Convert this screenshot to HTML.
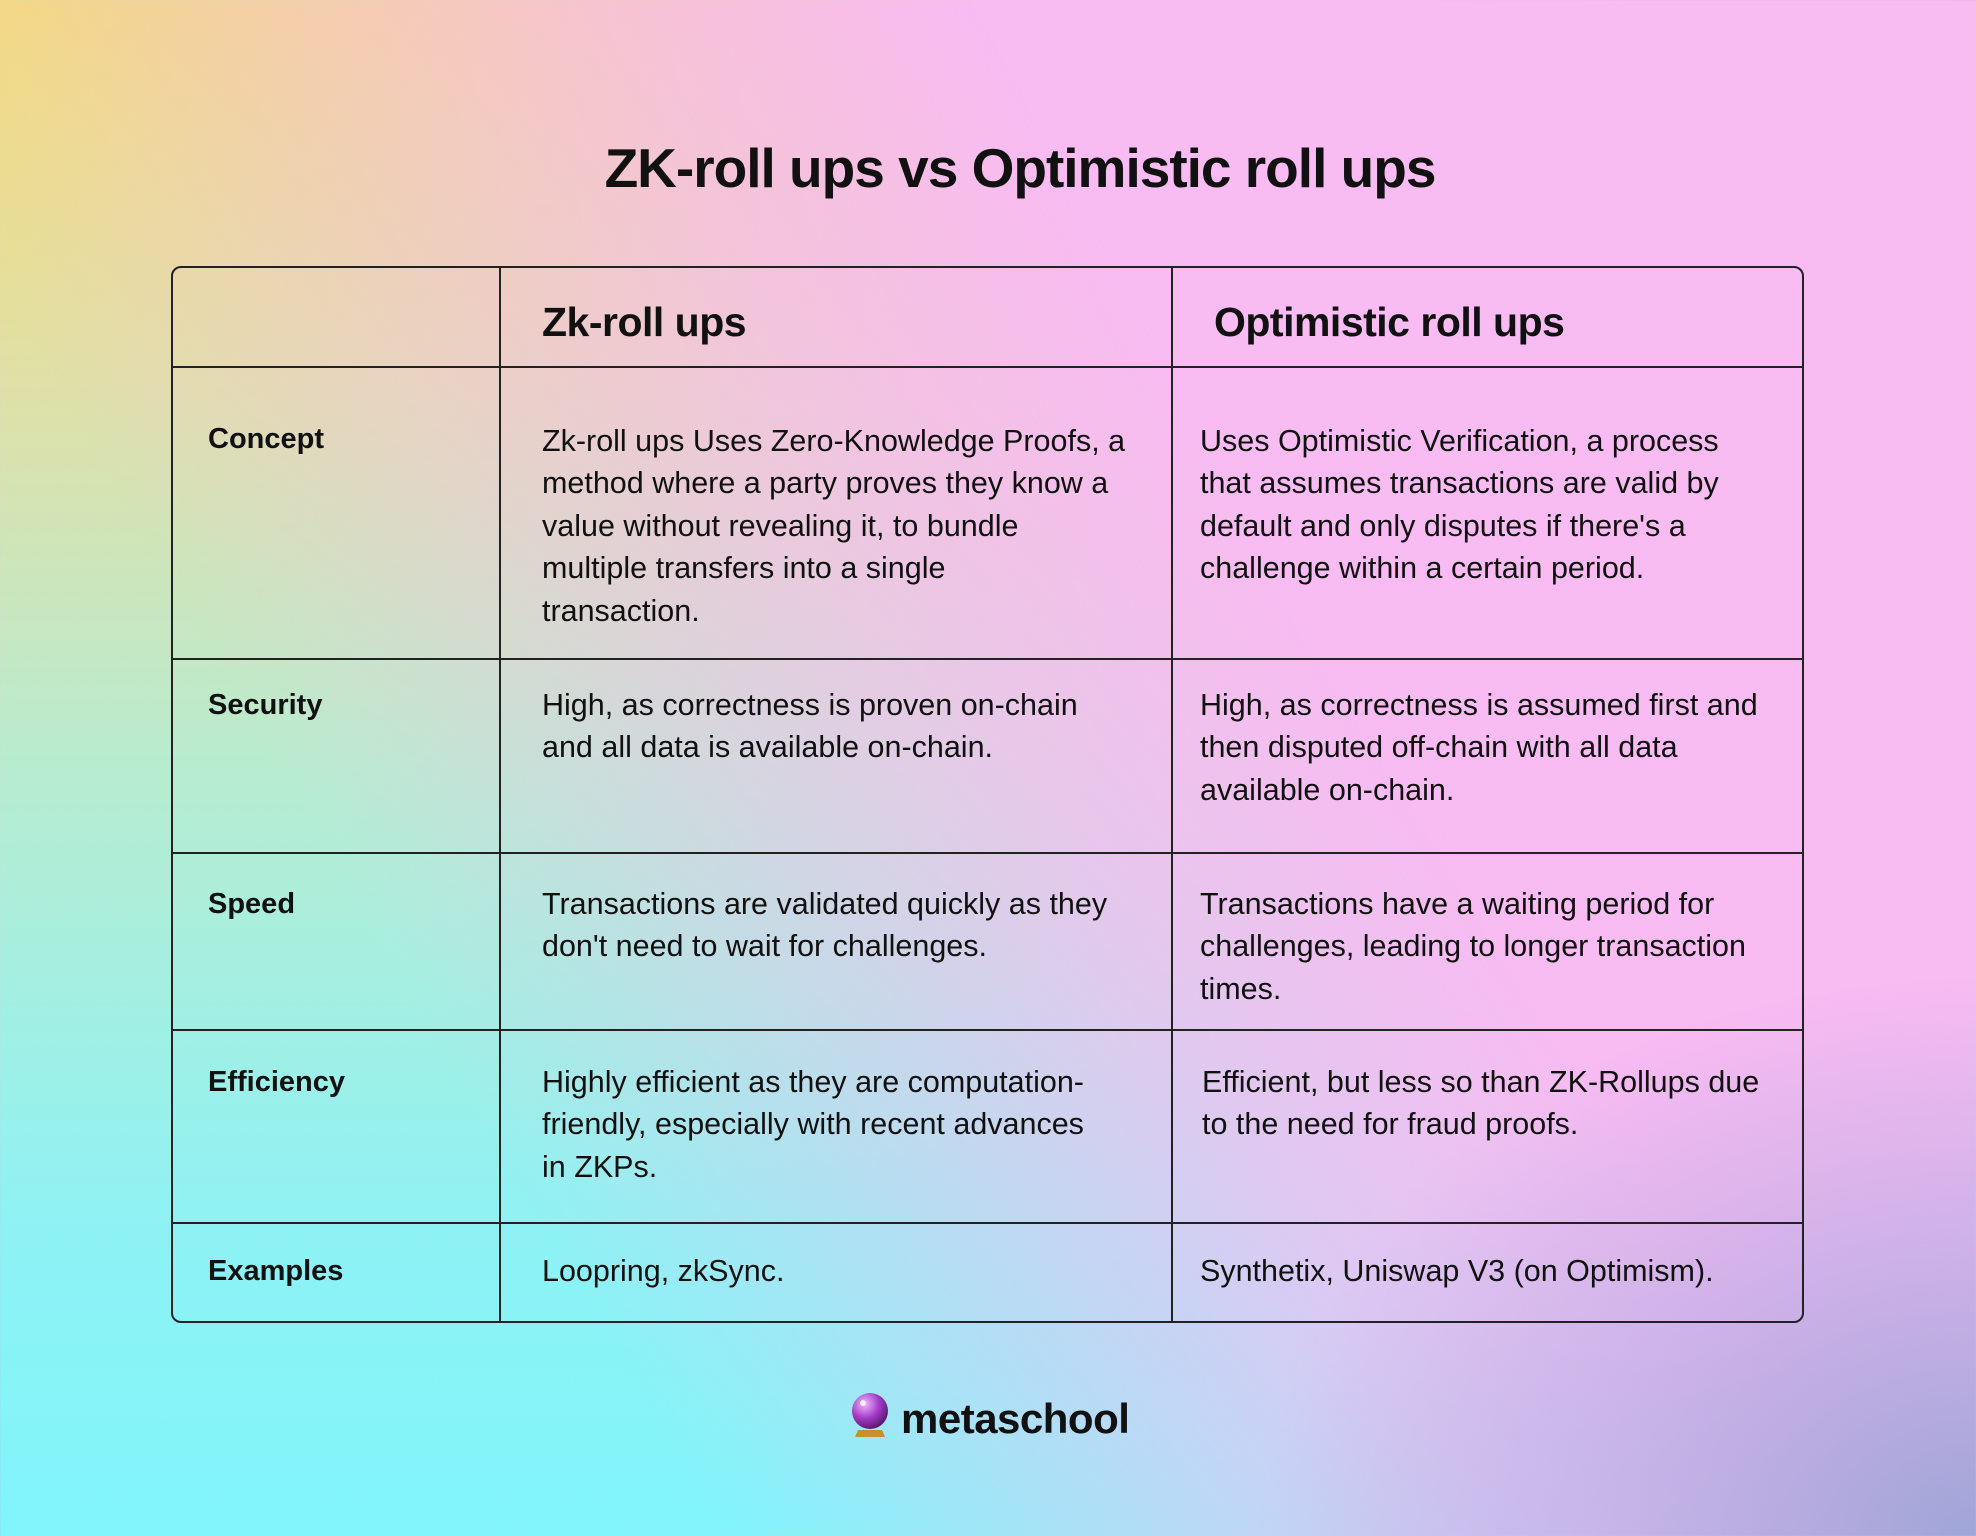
<!DOCTYPE html>
<html><head><meta charset="utf-8"><style>
html,body{margin:0;padding:0}
body{width:1976px;height:1536px;position:relative;overflow:hidden;font-family:"Liberation Sans",sans-serif;color:#111;
background:
radial-gradient(ellipse 900px 700px at 100% 100%, rgba(160,165,215,1) 0%, rgba(175,170,225,0.6) 40%, rgba(175,170,225,0) 80%),
linear-gradient(60deg, rgba(248,187,242,0) 25%, rgba(248,187,242,0.75) 52%, rgba(248,187,242,1) 65%),
linear-gradient(to bottom, #f2de70 0%, #e0e0a8 25%, #b8ecd0 50%, #8ef2f4 80%, #80f5fb 100%);}
.t{position:absolute;white-space:nowrap}
.title{left:0;width:2040px;text-align:center;top:136px;font-size:55px;font-weight:bold;letter-spacing:-1px}
.tbl{position:absolute;left:171px;top:266px;width:1633px;height:1057px;border:2px solid #222;border-radius:10px;box-sizing:border-box}
.h{position:absolute;height:2px;background:#222;left:171px;width:1633px}
.v{position:absolute;width:2px;background:#222;top:266px;height:1057px}
.hd{font-size:41px;font-weight:bold;letter-spacing:-0.5px}
.lb{font-size:29px;font-weight:bold;left:208px}
.b{font-size:30.5px;line-height:42.4px;letter-spacing:0}
</style></head><body>
<div class="t title">ZK-roll ups vs Optimistic roll ups</div>
<div class="tbl"></div>
<div class="h" style="top:366px"></div>
<div class="h" style="top:658px"></div>
<div class="h" style="top:852px"></div>
<div class="h" style="top:1029px"></div>
<div class="h" style="top:1222px"></div>
<div class="v" style="left:499px"></div>
<div class="v" style="left:1171px"></div>

<div class="t hd" style="left:542px;top:299px">Zk-roll ups</div>
<div class="t hd" style="left:1214px;top:299px">Optimistic roll ups</div>

<div class="t lb" style="top:423px">Concept</div>
<div class="t lb" style="top:689px">Security</div>
<div class="t lb" style="top:888px">Speed</div>
<div class="t lb" style="top:1066px">Efficiency</div>
<div class="t lb" style="top:1255px">Examples</div>

<div class="t b" style="left:542px;top:420px">Zk-roll ups Uses Zero-Knowledge Proofs, a<br>method where a party proves they know a<br>value without revealing it, to bundle<br>multiple transfers into a single<br>transaction.</div>
<div class="t b" style="left:1200px;top:420px">Uses Optimistic Verification, a process<br>that assumes transactions are valid by<br>default and only disputes if there's a<br>challenge within a certain period.</div>

<div class="t b" style="left:542px;top:684px">High, as correctness is proven on-chain<br>and all data is available on-chain.</div>
<div class="t b" style="left:1200px;top:684px">High, as correctness is assumed first and<br>then disputed off-chain with all data<br>available on-chain.</div>

<div class="t b" style="left:542px;top:883px">Transactions are validated quickly as they<br>don't need to wait for challenges.</div>
<div class="t b" style="left:1200px;top:883px">Transactions have a waiting period for<br>challenges, leading to longer transaction<br>times.</div>

<div class="t b" style="left:542px;top:1061px">Highly efficient as they are computation-<br>friendly, especially with recent advances<br>in ZKPs.</div>
<div class="t b" style="left:1202px;top:1061px">Efficient, but less so than ZK-Rollups due<br>to the need for fraud proofs.</div>

<div class="t b" style="left:542px;top:1250px">Loopring, zkSync.</div>
<div class="t b" style="left:1200px;top:1250px">Synthetix, Uniswap V3 (on Optimism).</div>

<svg style="position:absolute;left:850px;top:1390px" width="40" height="48" viewBox="0 0 40 48">
<defs><radialGradient id="g" cx="0.35" cy="0.3" r="0.8"><stop offset="0" stop-color="#f0b8ff"/><stop offset="0.5" stop-color="#a43cc8"/><stop offset="1" stop-color="#4a1060"/></radialGradient></defs>
<path d="M8 40 L32 40 L35 47 L5 47 Z" fill="#c8902a"/>
<circle cx="20" cy="21" r="18" fill="url(#g)"/>
<circle cx="13" cy="13" r="3" fill="#fff" opacity="0.8"/>
</svg>
<div class="t" style="left:901px;top:1395px;font-size:42px;font-weight:bold;letter-spacing:-0.5px">metaschool</div>
</body></html>
